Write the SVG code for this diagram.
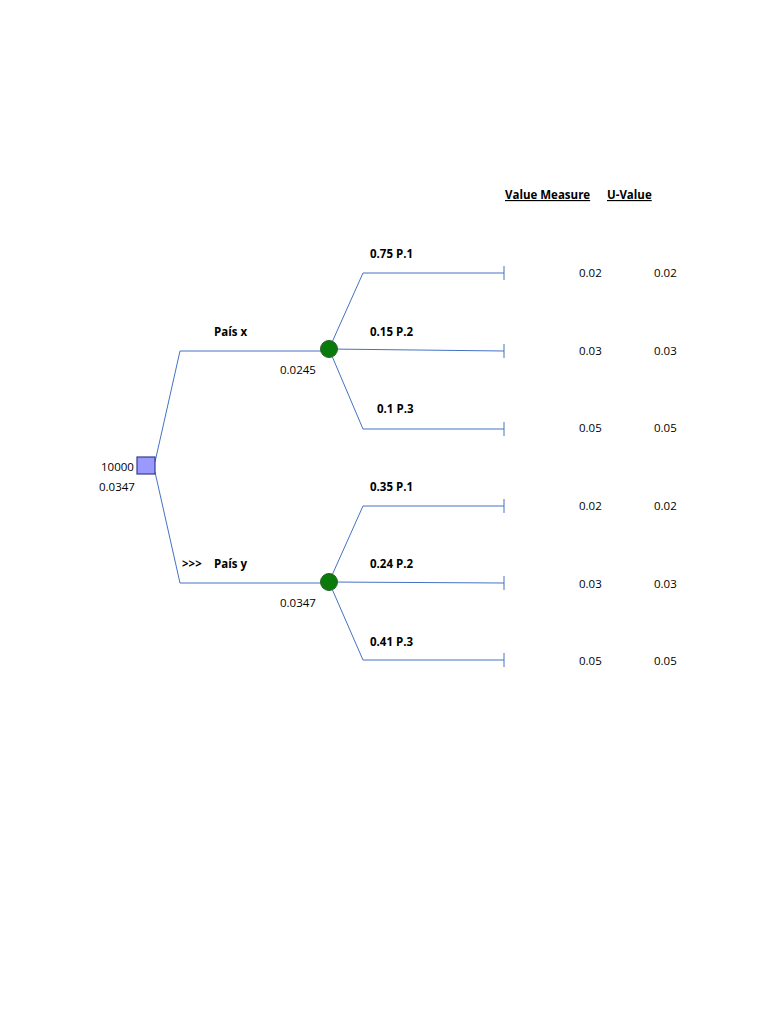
<svg xmlns="http://www.w3.org/2000/svg" width="768" height="1024" viewBox="0 0 768 1024">
<style>
text{font-family:"Open Sans","Liberation Sans",sans-serif;font-size:11.5px;fill:#000}
.b{font-weight:bold}
.u{text-decoration:underline;font-weight:bold}
.l{stroke:#4472c4;stroke-width:1;fill:none}
</style>
<rect width="768" height="1024" fill="#fff"/>
<g id="connectors">
<path class="l" d="M155,462 L180,351 L329,351"/>
<path class="l" d="M155,472 L180,583 L329,583"/>
<path class="l" d="M329,349 L363,273 L504,273 M504,266 V280"/>
<path class="l" d="M329,349 L504,351 M504,344 V358"/>
<path class="l" d="M329,349 L363,429 L504,429 M504,422 V436"/>
<path class="l" d="M329,582 L363,506 L504,506 M504,499 V513"/>
<path class="l" d="M329,582 L504,583 M504,576 V590"/>
<path class="l" d="M329,582 L363,660 L504,660 M504,653 V667"/>
</g>
<g id="decision"><rect x="137" y="457" width="18" height="17" fill="#9999ff" stroke="#2f3f8f" stroke-width="1.2"/>
<text x="101" y="471">10000</text><text x="99" y="491">0.0347</text></g>
<g id="chanceX"><circle cx="329" cy="349" r="8.5" fill="#0a7a0a" stroke="#2f5f2f"/><text x="280" y="374">0.0245</text><text class="b" x="214" y="336">País x</text></g>
<g id="chanceY"><circle cx="329" cy="582" r="8.5" fill="#0a7a0a" stroke="#2f5f2f"/><text x="280" y="607">0.0347</text><text class="b" x="182" y="568">&gt;&gt;&gt;</text><text class="b" x="214" y="568">País y</text></g>
<g id="headers"><text class="u" x="505" y="199">Value Measure</text><text class="u" x="607" y="199">U-Value</text></g>
<g id="outcomes">
<text class="b" x="370" y="258">0.75 P.1</text><text x="579" y="277">0.02</text><text x="654" y="277">0.02</text>
<text class="b" x="370" y="336">0.15 P.2</text><text x="579" y="355">0.03</text><text x="654" y="355">0.03</text>
<text class="b" x="377" y="413">0.1 P.3</text><text x="579" y="432">0.05</text><text x="654" y="432">0.05</text>
<text class="b" x="370" y="491">0.35 P.1</text><text x="579" y="510">0.02</text><text x="654" y="510">0.02</text>
<text class="b" x="370" y="568">0.24 P.2</text><text x="579" y="588">0.03</text><text x="654" y="588">0.03</text>
<text class="b" x="370" y="646">0.41 P.3</text><text x="579" y="665">0.05</text><text x="654" y="665">0.05</text>
</g>
</svg>
